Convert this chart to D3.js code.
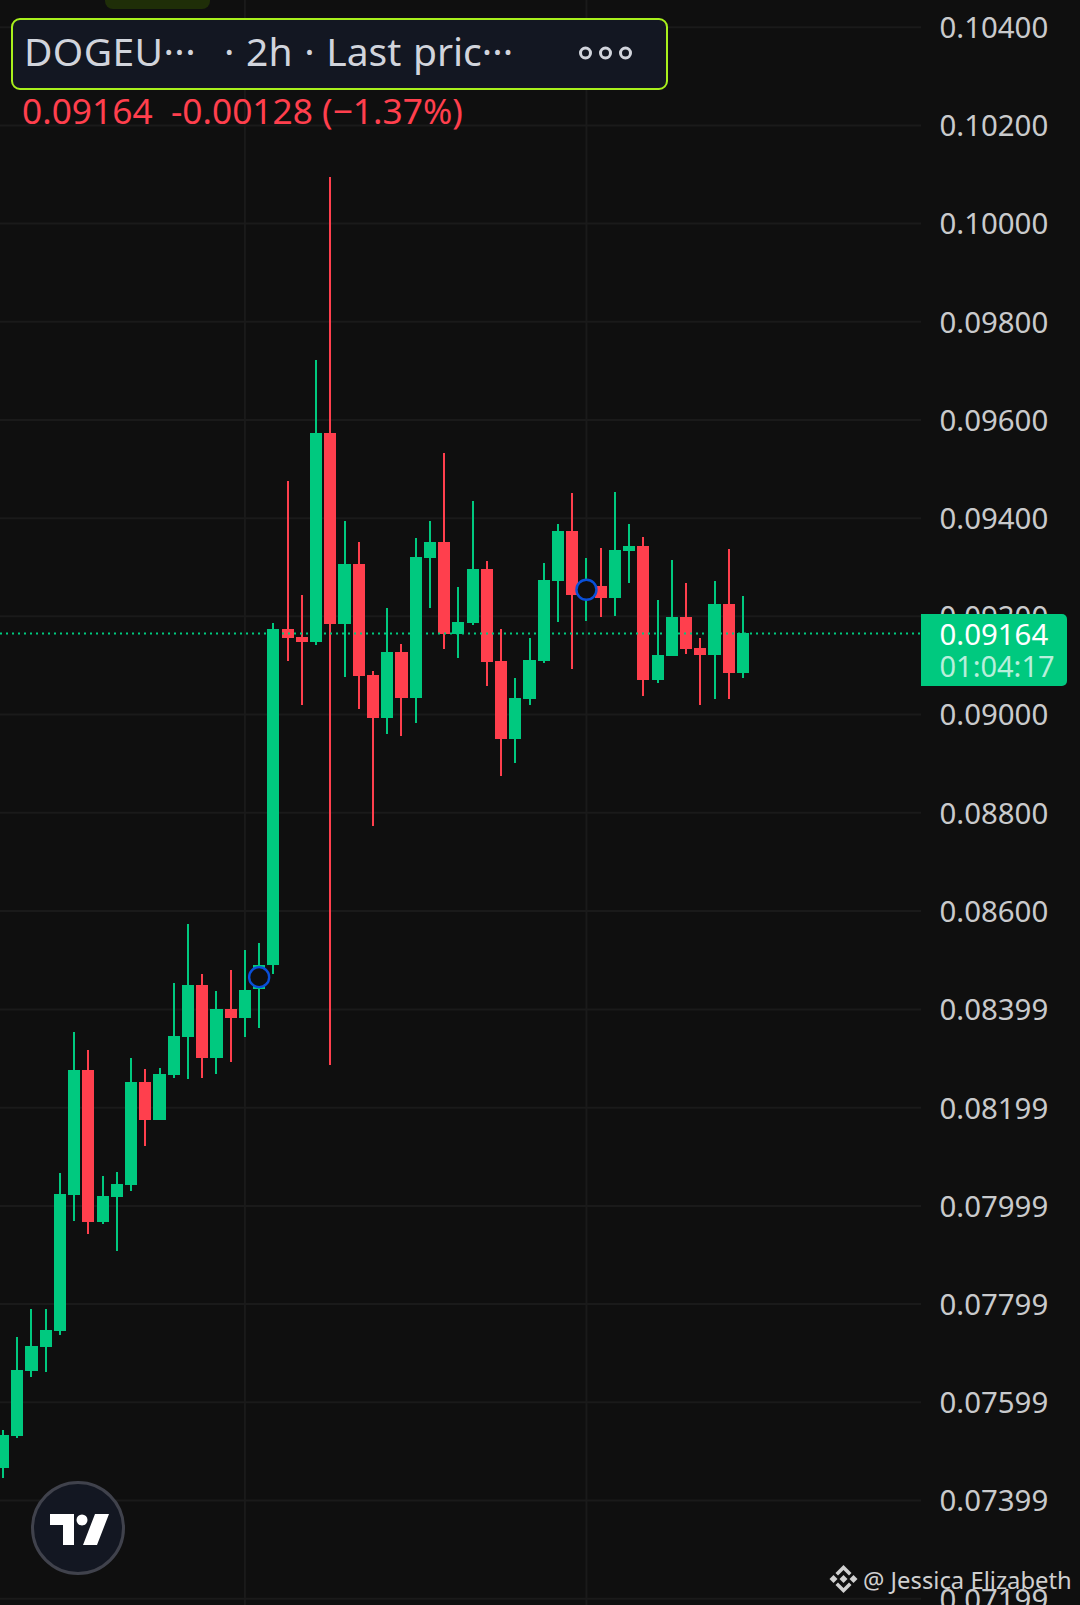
<!DOCTYPE html>
<html>
<head>
<meta charset="utf-8">
<script src="https://cdn.jsdelivr.net/npm/d3@7"></script>
<style>
  html, body { margin: 0; padding: 0; background: #0f0f0f; overflow: hidden; }
  svg { display: block; font-family: "Noto Sans", sans-serif; }
</style>
</head>
<body>
<div id="chart"></div>
<script>
// candles, oldest first
const opens = [0.07464,0.07529,0.07662,0.07711,0.07743,0.08020,0.08275,0.07965,0.08016,0.08041,0.08250,0.08173,0.08265,0.08342,0.08448,0.08299,0.08399,0.08381,0.08440,0.08489,0.09173,0.09157,0.09147,0.09572,0.09183,0.09306,0.09079,0.08992,0.09126,0.09033,0.09318,0.09350,0.09163,0.09185,0.09295,0.09108,0.08949,0.09031,0.09108,0.09271,0.09373,0.09242,0.09261,0.09236,0.09332,0.09342,0.09069,0.09118,0.09198,0.09134,0.09120,0.09224,0.09084];
const closes = [0.07531,0.07664,0.07713,0.07745,0.08022,0.08275,0.07965,0.08018,0.08043,0.08250,0.08173,0.08267,0.08344,0.08448,0.08299,0.08399,0.08381,0.08438,0.08489,0.09173,0.09155,0.09147,0.09572,0.09183,0.09306,0.09077,0.08992,0.09126,0.09033,0.09320,0.09350,0.09163,0.09187,0.09295,0.09106,0.08949,0.09033,0.09110,0.09273,0.09373,0.09242,0.09261,0.09236,0.09334,0.09342,0.09069,0.09120,0.09198,0.09132,0.09120,0.09224,0.09084,0.09164];
const highs = [0.07542,0.07731,0.07788,0.07788,0.08065,0.08352,0.08316,0.08059,0.08067,0.08299,0.08277,0.08279,0.08452,0.08572,0.08470,0.08436,0.08479,0.08519,0.08534,0.09185,0.09475,0.09242,0.09721,0.10094,0.09393,0.09350,0.09088,0.09216,0.09143,0.09359,0.09393,0.09532,0.09259,0.09434,0.09312,0.09173,0.09073,0.09155,0.09308,0.09387,0.09450,0.09318,0.09338,0.09452,0.09387,0.09361,0.09232,0.09314,0.09267,0.09155,0.09271,0.09336,0.09240];
const lows = [0.07444,0.07525,0.07649,0.07660,0.07735,0.07967,0.07941,0.07961,0.07906,0.08028,0.08120,0.08173,0.08259,0.08257,0.08259,0.08267,0.08291,0.08342,0.08360,0.08470,0.09108,0.09018,0.09141,0.08285,0.09075,0.09010,0.08772,0.08959,0.08955,0.08982,0.09216,0.09132,0.09114,0.09181,0.09057,0.08874,0.08900,0.09018,0.09104,0.09187,0.09092,0.09189,0.09198,0.09200,0.09267,0.09037,0.09063,0.09118,0.09122,0.09018,0.09031,0.09031,0.09073];

const tickLabels = ["0.10400","0.10200","0.10000","0.09800","0.09600","0.09400","0.09200","0.09000","0.08800","0.08600","0.08399","0.08199","0.07999","0.07799","0.07599","0.07399","0.07199"];

// blue circle markers: candle index and price
const markerIndex = [18, 41];
const markerPrice = [0.08464, 0.09253];
// vertical grid lines sit on these candles
const gridIndex = [17, 41];

const lastPrice = 0.09164;

const green = "#00c97f", red = "#ff3f4d", bg = "#0f0f0f", gridColor = "#1a1a1a";
const width = 1080, height = 1605, plotRight = 921;

const svg = d3.select("#chart")
  .append("svg")
    .attr("width", width)
    .attr("height", height);

svg.append("rect").attr("width", width).attr("height", height).attr("fill", bg);

const x = d3.scaleBand()
  .domain(d3.range(opens.length))
  .range([-4.1, -4.1 + 14.23 * opens.length])
  .paddingInner(0.15)
  .paddingOuter(0.075);

const y = d3.scaleLinear()
  .domain([0.09, 0.074])
  .range([714, 1499.5]);

const cx = i => x(i) + x.bandwidth() / 2;

// vertical grid
svg.selectAll(".vgrid")
  .data(gridIndex)
  .join("line")
    .attr("class", "vgrid")
    .attr("x1", d => cx(d)).attr("x2", d => cx(d))
    .attr("y1", 0).attr("y2", height)
    .attr("stroke", gridColor)
    .attr("stroke-width", 2);

// price axis with horizontal grid
const axis = svg.append("g")
  .attr("transform", `translate(${plotRight},0)`)
  .call(d3.axisRight(y)
    .tickValues(tickLabels.map(Number))
    .tickFormat((d, i) => tickLabels[i])
    .tickSize(-plotRight)
    .tickPadding(18.5));
axis.select(".domain").remove();
axis.selectAll("line").attr("stroke", gridColor).attr("stroke-width", 2);
axis.selectAll("text")
  .attr("fill", "#c9cacc")
  .attr("font-size", 29.4)
  .attr("font-family", "Noto Sans")
  .attr("dy", "0.37em");

const idx = d3.range(opens.length);
const col = i => closes[i] >= opens[i] ? green : red;

// wicks
svg.selectAll(".wick")
  .data(idx)
  .join("rect")
    .attr("class", "wick")
    .attr("x", i => cx(i) - 1)
    .attr("width", 2)
    .attr("y", i => y(highs[i]))
    .attr("height", i => y(lows[i]) - y(highs[i]))
    .attr("fill", col)
    .attr("shape-rendering", "crispEdges");

// bodies
svg.selectAll(".body")
  .data(idx)
  .join("rect")
    .attr("class", "body")
    .attr("x", i => x(i))
    .attr("width", x.bandwidth())
    .attr("y", i => y(Math.max(opens[i], closes[i])))
    .attr("height", i => Math.abs(y(opens[i]) - y(closes[i])))
    .attr("fill", col)
    .attr("shape-rendering", "crispEdges");

// last price line
svg.append("line")
  .attr("x1", 0).attr("x2", plotRight)
  .attr("y1", y(lastPrice)).attr("y2", y(lastPrice))
  .attr("stroke", green)
  .attr("stroke-width", 2)
  .attr("stroke-dasharray", "2 4");

// markers
svg.selectAll(".marker")
  .data(markerIndex)
  .join("circle")
    .attr("class", "marker")
    .attr("cx", d => cx(d))
    .attr("cy", (d, i) => y(markerPrice[i]))
    .attr("r", 10)
    .attr("fill", bg)
    .attr("stroke", "#0a50d8")
    .attr("stroke-width", 2.4);

// price tag
svg.append("path")
  .attr("d", "M921,614H1062a5,5 0 0 1 5,5V681a5,5 0 0 1 -5,5H921Z")
  .attr("fill", green);
svg.append("text").text("0.09164")
  .attr("x", 939.5).attr("y", 644.5)
  .attr("font-size", 29.4).attr("fill", "#ffffff");
svg.append("text").text("01:04:17")
  .attr("x", 939.5).attr("y", 677)
  .attr("font-size", 29).attr("fill", "#ffffff").attr("fill-opacity", 0.72);

// small tab above the legend
svg.append("path")
  .attr("d", "M105,0H210V1a8,8 0 0 1 -8,8H113a8,8 0 0 1 -8,-8Z")
  .attr("fill", "#1f2e08");

// legend
svg.append("rect")
  .attr("x", 12).attr("y", 19).attr("width", 655).attr("height", 70).attr("rx", 8)
  .attr("fill", "#131722")
  .attr("stroke", "#a8f01c")
  .attr("stroke-width", 2);
svg.append("text").text("DOGEU\u00b7\u00b7\u00b7")
  .attr("x", 24).attr("y", 65.5)
  .attr("font-size", 39).attr("letter-spacing", 0.4).attr("fill", "#d1d4dc");
svg.append("text").text("\u00b7 2h \u00b7 Last pric\u00b7\u00b7\u00b7")
  .attr("x", 224).attr("y", 65.5)
  .attr("font-size", 39).attr("word-spacing", 1.5).attr("fill", "#d1d4dc");
svg.selectAll(".more")
  .data([0, 1, 2])
  .join("circle")
    .attr("class", "more")
    .attr("cx", d => 585.5 + d * 20).attr("cy", 53)
    .attr("r", 5)
    .attr("fill", "none")
    .attr("stroke", "#d1d4dc")
    .attr("stroke-width", 3);
svg.append("text").text("0.09164  -0.00128 (\u22121.37%)")
  .attr("xml:space", "preserve")
  .style("white-space", "pre")
  .attr("x", 22).attr("y", 123.5)
  .attr("font-size", 35.3).attr("fill", red);

// tradingview badge
const badge = svg.append("g").attr("transform", "translate(78,1528)");
badge.append("circle").attr("r", 45.5).attr("fill", "#131722").attr("stroke", "#40424c").attr("stroke-width", 3);
badge.append("path")
  .attr("d", "M-28,-14H-4V17H-15V-3H-28Z M17,-14H31L19,17H5Z")
  .attr("fill", "#ffffff");
badge.append("circle").attr("cx", 4).attr("cy", -8).attr("r", 5.5).attr("fill", "#ffffff");

// watermark
const mark = svg.append("g").attr("transform", "translate(843.5,1579)").attr("fill", "#d0d0d0");
mark.append("path").attr("d", "M0,-4L4,0L0,4L-4,0Z M-10,-4L-6,0L-10,4L-14,0Z M10,-4L14,0L10,4L6,0Z M0,-14L8,-6L5.5,-3.5L0,-9L-5.5,-3.5L-8,-6Z M0,14L8,6L5.5,3.5L0,9L-5.5,3.5L-8,6Z");
svg.append("text").text("@ Jessica Elizabeth")
  .attr("x", 863).attr("y", 1589)
  .attr("font-size", 23.8).attr("fill", "#d0d0d0");
</script>
</body>
</html>
